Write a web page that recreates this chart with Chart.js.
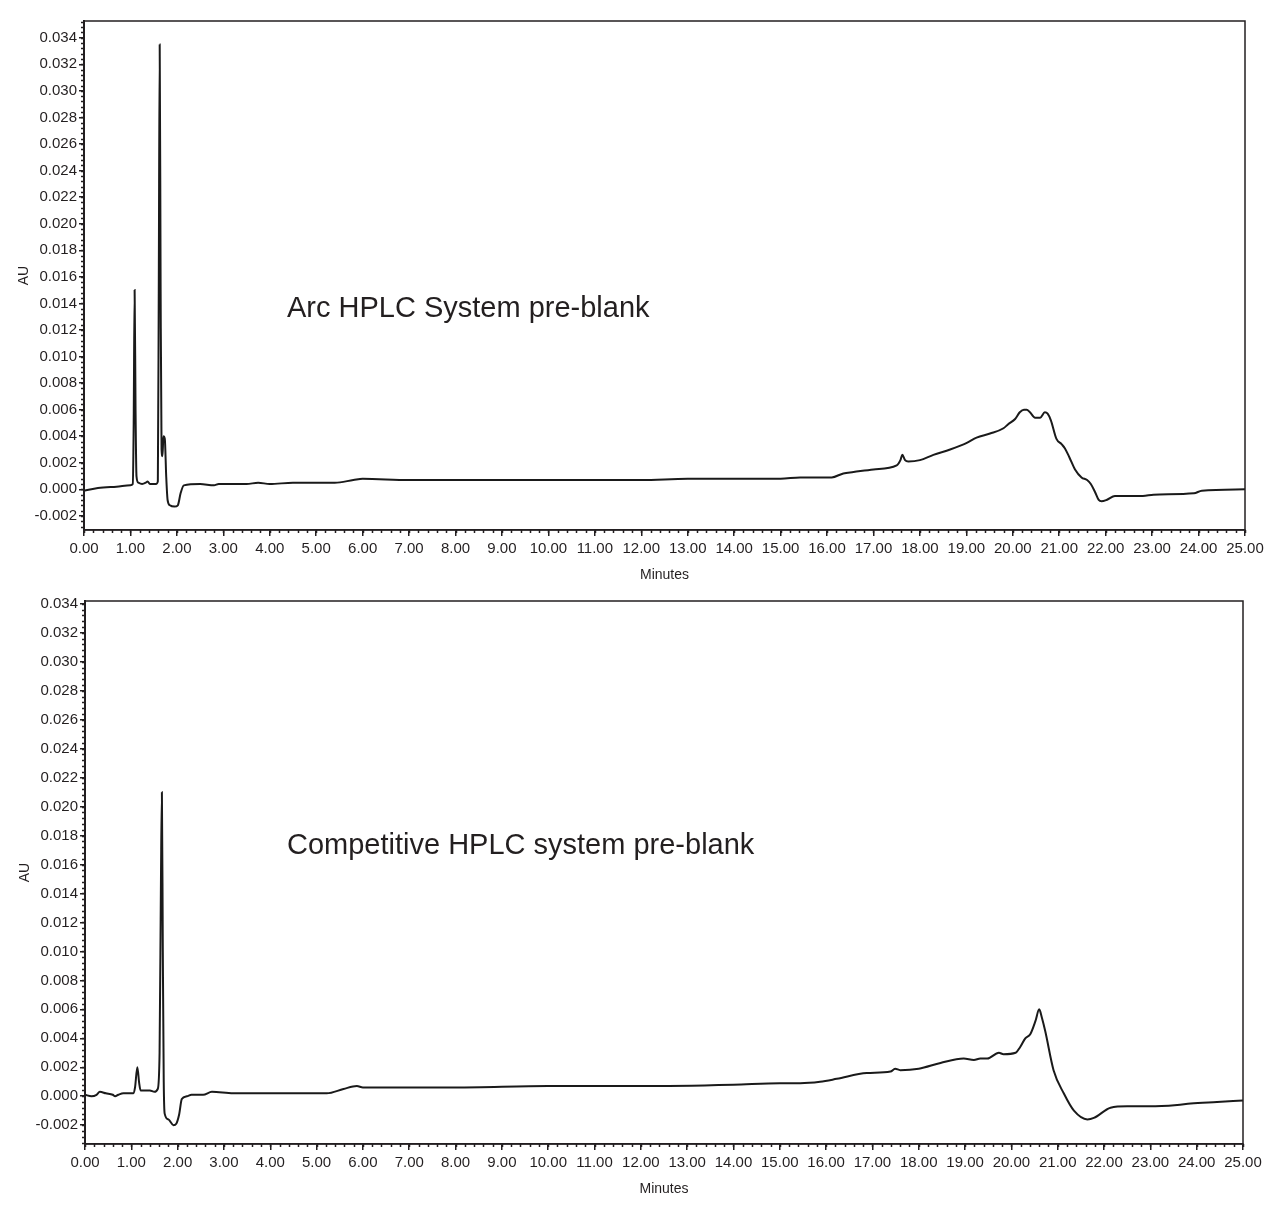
<!DOCTYPE html>
<html>
<head>
<meta charset="utf-8">
<title>HPLC pre-blank chromatograms</title>
<script src="https://cdn.jsdelivr.net/npm/chart.js@4.4.1/dist/chart.umd.min.js"></script>
<style>
  html, body { margin: 0; padding: 0; background: #fff; }
  #wrap { position: relative; width: 1280px; height: 1221px; }
  canvas { position: absolute; left: 0; }
  #arc-chart { top: 0; }
  #comp-chart { top: 590px; }
</style>
</head>
<body>
<div id="wrap">
  <canvas id="arc-chart" width="1280" height="590"></canvas>
  <canvas id="comp-chart" width="1280" height="631"></canvas>
</div>
<script>
// Arc HPLC System pre-blank (minutes, AU)
const arcTime = [0.00, 0.30, 0.70, 1.00, 1.05, 1.07, 1.09, 1.11, 1.13, 1.17, 1.25, 1.33, 1.37, 1.42, 1.55, 1.59,
  1.61, 1.63, 1.65, 1.67, 1.69, 1.71, 1.74, 1.77, 1.80, 1.85, 1.95, 2.02, 2.08, 2.15, 2.50, 2.80, 2.90, 3.50,
  3.75, 4.00, 4.50, 5.00, 5.40, 5.80, 6.00, 7.00, 8.00, 9.00, 10.00, 11.00, 12.00, 13.00, 14.00, 15.00, 15.42,
  16.10, 16.35, 16.57, 17.00, 17.50, 17.58, 17.62, 17.68, 17.75, 18.00, 18.29, 18.65, 19.01, 19.22, 19.51, 19.80,
  19.90, 20.05, 20.15, 20.24, 20.30, 20.37, 20.48, 20.59, 20.69, 20.75, 20.82, 20.94, 21.05, 21.12, 21.22, 21.34,
  21.48, 21.60, 21.68, 21.77, 21.85, 21.91, 22.02, 22.20, 22.80, 23.03, 23.90, 24.07, 25.00];
const arcAU = [-0.0001, 0.0001, 0.0002, 0.0003, 0.0004, 0.0050, 0.0150, 0.0060, 0.0010, 0.0005, 0.0004, 0.0005,
  0.0006, 0.0004, 0.0004, 0.0006, 0.0150, 0.0335, 0.0150, 0.0030, 0.0025, 0.0040, 0.0038, 0.0010, -0.0008,
  -0.0012, -0.0013, -0.0012, -0.0003, 0.0003, 0.0004, 0.0003, 0.0004, 0.0004, 0.0005, 0.0004, 0.0005, 0.0005,
  0.0005, 0.0007, 0.0008, 0.0007, 0.0007, 0.0007, 0.0007, 0.0007, 0.0007, 0.0008, 0.0008, 0.0008, 0.0009,
  0.0009, 0.0012, 0.0013, 0.0015, 0.0018, 0.0022, 0.0026, 0.0022, 0.0021, 0.0022, 0.0026, 0.0030, 0.0035,
  0.0039, 0.0042, 0.0046, 0.0049, 0.0053, 0.0058, 0.0060, 0.0060, 0.0058, 0.0054, 0.0054, 0.0058, 0.0057,
  0.0052, 0.0038, 0.0034, 0.0031, 0.0024, 0.0015, 0.0009, 0.0007, 0.0004, -0.0002, -0.0008, -0.0009, -0.0008,
  -0.0005, -0.0005, -0.0004, -0.0003, -0.0001, 0.0000];

// Competitive HPLC system pre-blank (minutes, AU)
const compTime = [0.00, 0.14, 0.25, 0.32, 0.45, 0.60, 0.65, 0.72, 0.83, 1.04, 1.08, 1.13, 1.17, 1.20, 1.40, 1.50,
  1.57, 1.61, 1.64, 1.66, 1.68, 1.70, 1.72, 1.80, 1.91, 1.97, 2.03, 2.09, 2.20, 2.30, 2.55, 2.74, 3.20, 4.28,
  5.22, 5.58, 5.87, 6.00, 6.80, 8.00, 10.00, 12.00, 14.00, 15.00, 15.44, 15.87, 16.23, 16.88, 17.39, 17.49,
  17.60, 18.00, 18.47, 18.97, 19.19, 19.33, 19.48, 19.73, 19.83, 20.09, 20.19, 20.30, 20.41, 20.52, 20.60,
  20.66, 20.73, 20.91, 21.13, 21.35, 21.64, 21.78, 22.14, 22.50, 23.00, 23.58, 23.87, 24.44, 25.00];
const compAU = [0.0001, 0.0000, 0.0001, 0.0003, 0.0002, 0.0001, 0.0000, 0.0001, 0.0002, 0.0002, 0.0006, 0.0020,
  0.0009, 0.0004, 0.0004, 0.0003, 0.0005, 0.0030, 0.0150, 0.0210, 0.0100, 0.0010, -0.0012, -0.0016, -0.0020,
  -0.0019, -0.0013, -0.0002, 0.0000, 0.0001, 0.0001, 0.0003, 0.0002, 0.0002, 0.0002, 0.0005, 0.0007, 0.0006,
  0.0006, 0.0006, 0.0007, 0.0007, 0.0008, 0.0009, 0.0009, 0.0010, 0.0012, 0.0016, 0.0017, 0.0019, 0.0018,
  0.0019, 0.0023, 0.0026, 0.0025, 0.0026, 0.0026, 0.0030, 0.0029, 0.0030, 0.0034, 0.0040, 0.0043, 0.0052,
  0.0060, 0.0054, 0.0045, 0.0018, 0.0002, -0.0010, -0.0016, -0.0015, -0.0008, -0.0007, -0.0007, -0.0006,
  -0.0005, -0.0004, -0.0003];

// Tick labels
const minuteTicks = [0, 1, 2, 3, 4, 5, 6, 7, 8, 9, 10, 11, 12, 13, 14, 15, 16, 17, 18, 19, 20, 21, 22, 23, 24, 25];
const auTicks = [-0.002, 0.000, 0.002, 0.004, 0.006, 0.008, 0.010, 0.012, 0.014, 0.016, 0.018, 0.020,
  0.022, 0.024, 0.026, 0.028, 0.030, 0.032, 0.034];

const FONT = "Arial, 'Liberation Sans', sans-serif";
const INK = '#231f20';

// Draws the box frame, the small minor ticks and the panel caption
const frameAndCaption = {
    id: 'frameAndCaption',
    afterDraw(chart, args, opts) {
        const { ctx, chartArea: a } = chart;
        const x = chart.scales.x;
        const y = chart.scales.y;
        ctx.save();
        ctx.strokeStyle = INK;
        ctx.lineWidth = 1.5;
        ctx.strokeRect(a.left, a.top, a.right - a.left, a.bottom - a.top);

        // minor ticks: every 0.2 min and every 0.0004 AU
        ctx.beginPath();
        for (let i = Math.ceil(x.min / 0.2); i * 0.2 <= x.max + 1e-9; i++) {
            const px = Math.round(x.getPixelForValue(i * 0.2)) + 0.5;
            ctx.moveTo(px, a.bottom);
            ctx.lineTo(px, a.bottom + 3);
        }
        for (let i = Math.ceil(y.min / 0.0004); i * 0.0004 <= y.max + 1e-9; i++) {
            const py = Math.round(y.getPixelForValue(i * 0.0004)) + 0.5;
            ctx.moveTo(a.left, py);
            ctx.lineTo(a.left - 3, py);
        }
        ctx.stroke();

        ctx.fillStyle = INK;
        ctx.font = '29px ' + FONT;
        ctx.textBaseline = 'middle';
        ctx.textAlign = 'left';
        ctx.fillText(opts.text, x.getPixelForValue(opts.at[0]), y.getPixelForValue(opts.at[1]));
        ctx.restore();
    }
};

function makeChart(canvasId, times, values, yMin, yMax, padding, xHeight, caption) {
    const points = times.map((t, i) => ({ x: t, y: values[i] }));
    return new Chart(document.getElementById(canvasId), {
        type: 'line',
        data: {
            datasets: [{
                data: points,
                borderColor: '#1a1a1a',
                borderWidth: 2,
                pointRadius: 0,
                fill: false,
                cubicInterpolationMode: 'monotone'
            }]
        },
        options: {
            responsive: false,
            animation: false,
            layout: { padding: padding },
            plugins: {
                legend: { display: false },
                tooltip: { enabled: false },
                frameAndCaption: caption
            },
            scales: {
                x: {
                    type: 'linear',
                    min: 0,
                    max: 25,
                    afterBuildTicks: scale => { scale.ticks = minuteTicks.map(v => ({ value: v })); },
                    afterFit: scale => { scale.height = xHeight; },
                    grid: { drawOnChartArea: false, drawTicks: true, tickLength: 6, color: INK, lineWidth: 1.5 },
                    border: { display: true, color: INK, width: 1.5 },
                    ticks: {
                        color: INK,
                        font: { family: FONT, size: 15 },
                        padding: 4,
                        maxRotation: 0,
                        autoSkip: false,
                        callback: v => v.toFixed(2)
                    },
                    title: {
                        display: true,
                        text: 'Minutes',
                        color: INK,
                        font: { family: FONT, size: 14 },
                        padding: { top: 4, bottom: 4 }
                    }
                },
                y: {
                    type: 'linear',
                    min: yMin,
                    max: yMax,
                    afterBuildTicks: scale => { scale.ticks = auTicks.map(v => ({ value: v })); },
                    afterFit: scale => { scale.width = 72; },
                    grid: { drawOnChartArea: false, drawTicks: true, tickLength: 5, color: INK, lineWidth: 1.5 },
                    border: { display: true, color: INK, width: 2 },
                    ticks: {
                        color: INK,
                        font: { family: FONT, size: 15 },
                        padding: 2,
                        autoSkip: false,
                        callback: v => v.toFixed(3)
                    },
                    title: {
                        display: true,
                        text: 'AU',
                        color: INK,
                        font: { family: FONT, size: 14 },
                        padding: { top: 4, bottom: 4 }
                    }
                }
            }
        },
        plugins: [frameAndCaption]
    });
}

makeChart('arc-chart', arcTime, arcAU, -0.00306, 0.03526,
    { top: 21, right: 35, bottom: 2, left: 12 }, 58,
    { text: 'Arc HPLC System pre-blank', at: [4.37, 0.0136] });

makeChart('comp-chart', compTime, compAU, -0.0033, 0.0342,
    { top: 10, right: 37, bottom: 19, left: 13 }, 58,
    { text: 'Competitive HPLC system pre-blank', at: [4.36, 0.0173] });
</script>
</body>
</html>
